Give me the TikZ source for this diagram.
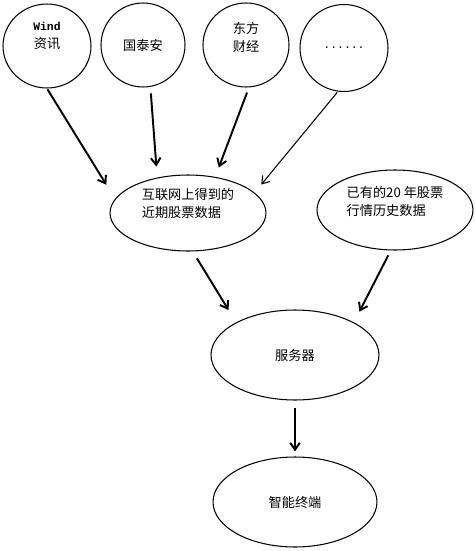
\documentclass[tikz,border=0pt]{standalone}
\usepackage{fontspec}
\setmainfont{Noto Sans CJK SC}
\setmonofont{Liberation Mono}
\usetikzlibrary{shapes.geometric, arrows.meta}

\begin{document}
\begin{tikzpicture}[x=0.02cm, y=-0.02cm,
    src/.style={draw, ellipse, line width=0.6pt, inner sep=0pt, align=center, font=\fontsize{7.5}{10.2}\selectfont},
    data/.style={src, align=left},
    arr/.style={-{Straight Barb[length=4pt,width=5.5pt]}, line width=1.1pt}]
    \useasboundingbox (0,0) rectangle (474,551);
    \node[src, minimum width=1.76cm, minimum height=1.68cm, text depth=12pt] (wind) at (47,46)
        {{\ttfamily\bfseries\fontsize{6.5}{10.2}\selectfont Wind}\\资讯};
    \node[src, minimum width=1.68cm, minimum height=1.68cm] (gta) at (143,45) {国泰安};
    \node[src, minimum width=1.72cm, minimum height=1.68cm, text depth=9pt] (east) at (246,45) {东方\\财经};
    \node[src, minimum width=1.76cm, minimum height=1.74cm] (more) at (344,48)
        {\ttfamily\fontsize{6.5}{8}\selectfont ......};
    \node[data, minimum width=3.12cm, minimum height=1.52cm, text depth=11pt] (net) at (188,213)
        {互联网上得到的\\近期股票数据};
    \node[data, minimum width=3.12cm, minimum height=1.60cm, text depth=10pt] (hist) at (395,210)
        {已有的20 年股票\\行情历史数据};
    \node[src, minimum width=3.36cm, minimum height=1.80cm] (server) at (295,355) {服务器};
    \node[src, minimum width=3.28cm, minimum height=1.80cm] (term) at (295,502) {智能终端};
    \draw[arr, shorten <=0.02cm, shorten >=0.33cm] (wind.south) -- (net.169);
    \draw[arr, shorten <=0.13cm, shorten >=0.22cm] (gta.280) -- (net.131);
    \draw[arr, shorten <=0.11cm, shorten >=0.2cm] (east.274) -- (net.53);
    \draw[arr, line width=0.6pt, shorten <=0.02cm, shorten >=0.21cm] (more.262) -- (net.17);
    \draw[arr, shorten <=0.16cm, shorten >=0.29cm] (net.277) -- (server.151);
    \draw[arr, shorten <=0.11cm, shorten >=0.24cm] (hist.264) -- (server.29);
    \draw[arr, shorten <=0.14cm, shorten >=0.1cm] (server.south) -- (term.north);
\end{tikzpicture}
\end{document}
